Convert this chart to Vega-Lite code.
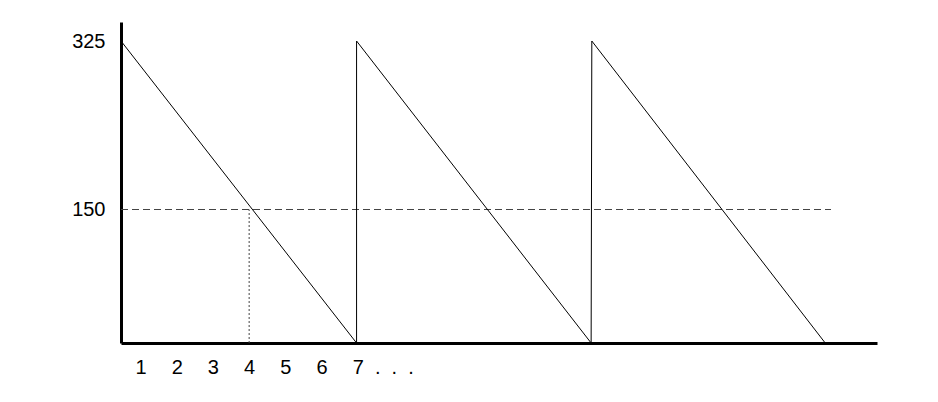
{
  "$schema": "https://vega.github.io/schema/vega-lite/v6.json",
  "description": "Sawtooth chart: value falls from 325 to 0 over 7 periods, then refills; dashed level at 150, dotted marker at period 4.",
  "autosize": {"type": "none"},
  "padding": {"left": 121, "top": 20, "right": 61, "bottom": 59},
  "width": 756,
  "height": 323,
  "background": "white",
  "config": {
    "view": {"stroke": null},
    "axis": {
      "domainColor": "black",
      "domainWidth": 3,
      "ticks": false,
      "grid": false,
      "title": null,
      "labelFont": "Arial, Liberation Sans, sans-serif",
      "labelFontSize": 20,
      "labelColor": "black"
    }
  },
  "datasets": {
    "saw": [
      {"step": 0.461, "stock": 325, "order": 1},
      {"step": 6.967, "stock": 0, "order": 2},
      {"step": 6.967, "stock": 325, "order": 3},
      {"step": 13.445, "stock": 0, "order": 4},
      {"step": 13.464, "stock": 325, "order": 5},
      {"step": 19.91, "stock": 0, "order": 6}
    ],
    "level": [{"start": 0.461, "end": 20.07, "stock": 150}],
    "marker": [{"step": 4, "low": 0, "stock": 150}]
  },
  "layer": [
    {
      "data": {"name": "level"},
      "mark": {"type": "rule", "color": "#444444", "strokeWidth": 1, "strokeDash": [7, 4]},
      "encoding": {
        "x": {"field": "start", "type": "quantitative"},
        "x2": {"field": "end"},
        "y": {"field": "stock", "type": "quantitative"}
      }
    },
    {
      "data": {"name": "marker"},
      "mark": {"type": "rule", "color": "#444444", "strokeWidth": 1, "strokeDash": [2, 2]},
      "encoding": {
        "x": {"field": "step", "type": "quantitative"},
        "y": {"field": "low", "type": "quantitative"},
        "y2": {"field": "stock"}
      }
    },
    {
      "data": {"name": "saw"},
      "mark": {"type": "line", "color": "black", "strokeWidth": 1},
      "encoding": {
        "x": {
          "field": "step",
          "type": "quantitative",
          "scale": {"domain": [0.461, 21.34], "nice": false, "zero": false},
          "axis": {
            "values": [1, 2, 3, 4, 5, 6, 7],
            "labelExpr": "datum.value == 7 ? '7\u00a0\u00a0.\u00a0\u00a0.\u00a0\u00a0.' : datum.label",
            "labelAlign": "left",
            "labelOffset": -5.6,
            "labelPadding": 14
          }
        },
        "y": {
          "field": "stock",
          "type": "quantitative",
          "scale": {"domain": [0, 150, 325, 346], "range": [323, 189.5, 21, 2], "nice": false, "zero": false},
          "axis": {"values": [150, 325], "labelPadding": 16}
        },
        "order": {"field": "order", "type": "quantitative"}
      }
    }
  ]
}
